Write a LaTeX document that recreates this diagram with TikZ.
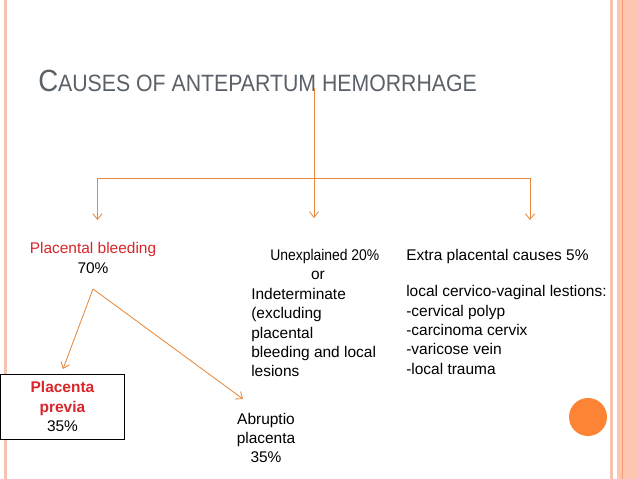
\documentclass[tikz,border=0pt]{standalone}
\usepackage{fontspec}
\setmainfont{Liberation Sans}
\newfontfamily\titlefont[FakeStretch=0.9]{Liberation Sans}
\newfontfamily\narrowfont[FakeStretch=0.9]{Liberation Sans}
\usetikzlibrary{arrows.meta}

\definecolor{lineorange}{HTML}{E8893C}
\definecolor{dotorange}{HTML}{FD8435}
\definecolor{causered}{HTML}{D8262B}
\definecolor{titlegray}{HTML}{5B6169}
\definecolor{edgepink}{HTML}{F5C3B0}
\definecolor{bandpink}{HTML}{FCC6B1}
\definecolor{banddark}{HTML}{F09C78}

\begin{document}
\begin{tikzpicture}[
                x=0.025cm, y=-0.025cm,
                txt/.style={
                    inner sep=0pt,
                    font=\fontsize{11}{13.8}\selectfont
                },
                causebox/.style={
                    txt,
                    draw=black,
                    fill=white,
                    line width=0.7pt,
                    rectangle,
                    minimum width=3.1cm,
                    minimum height=1.625cm,
                    align=center
                },
                arrow/.style={
                    ->,
                    draw=lineorange,
                    line width=0.6pt,
                    >={Straight Barb[length=4pt,width=6.5pt]}
                }
            ]
                \useasboundingbox (0,0) rectangle (638,479);
                \fill[white] (0,0) rectangle (638,479);

                % slide border
                \fill[edgepink] (4,0) rectangle (7,479);
                \fill[edgepink] (610,0) rectangle (613,479);
                \fill[bandpink] (617,0) rectangle (638,479);
                \draw[banddark, line width=0.8pt] (622.5,0) -- (622.5,479);

                \node[txt, anchor=base west, text=titlegray] (title) at (38,92)
                    {\titlefont\fontsize{21.8}{22}\selectfont C\fontsize{16.8}{22}\selectfont AUSES OF ANTEPARTUM HEMORRHAGE};

                \node[txt, align=center] (bleeding) at (93,258)
                    {\textcolor{causered}{Placental bleeding}\\70\%};
                \node[txt, anchor=north west, align=left] (unexplained) at (251,249)
                    {\hspace*{13.5pt}{\narrowfont Unexplained 20\%}\\ \hspace*{42.5pt}or\\ Indeterminate\\ (excluding\\ placental\\ bleeding and local\\ lesions};
                \node[txt, anchor=north west, align=left] (extra) at (406,249)
                    {Extra placental causes 5\%\\[12pt] local cervico-vaginal lestions:\\ -cervical polyp\\ -carcinoma cervix\\ -varicose vein\\ -local trauma};
                \node[causebox] (previa) at (62.5,406.5)
                    {\textcolor{causered}{\textbf{Placenta}}\\ \textcolor{causered}{\textbf{previa}}\\ 35\%};
                \node[txt, align=center] (abruptio) at (266,438)
                    {Abruptio\\ placenta\\ 35\%};

                \coordinate (stem) at (314,88);
                \coordinate (join) at (314,178);
                \coordinate (midtip) at (314,218);
                \coordinate (lefttip) at (97.5,220);
                \coordinate (righttip) at (530,220);
                \coordinate (fork) at (93,289);
                \coordinate (previatip) at (63,369);
                \coordinate (abruptiotip) at (243,399);

                \draw[arrow] (stem) -- (midtip);
                \draw[arrow] (join) -| (lefttip);
                \draw[arrow] (join) -| (righttip);
                \draw[arrow] (fork) -- (previatip);
                \draw[arrow] (fork) -- (abruptiotip);

                \fill[dotorange] (588,417) circle[radius=0.475cm];
        \end{tikzpicture}
\end{document}
